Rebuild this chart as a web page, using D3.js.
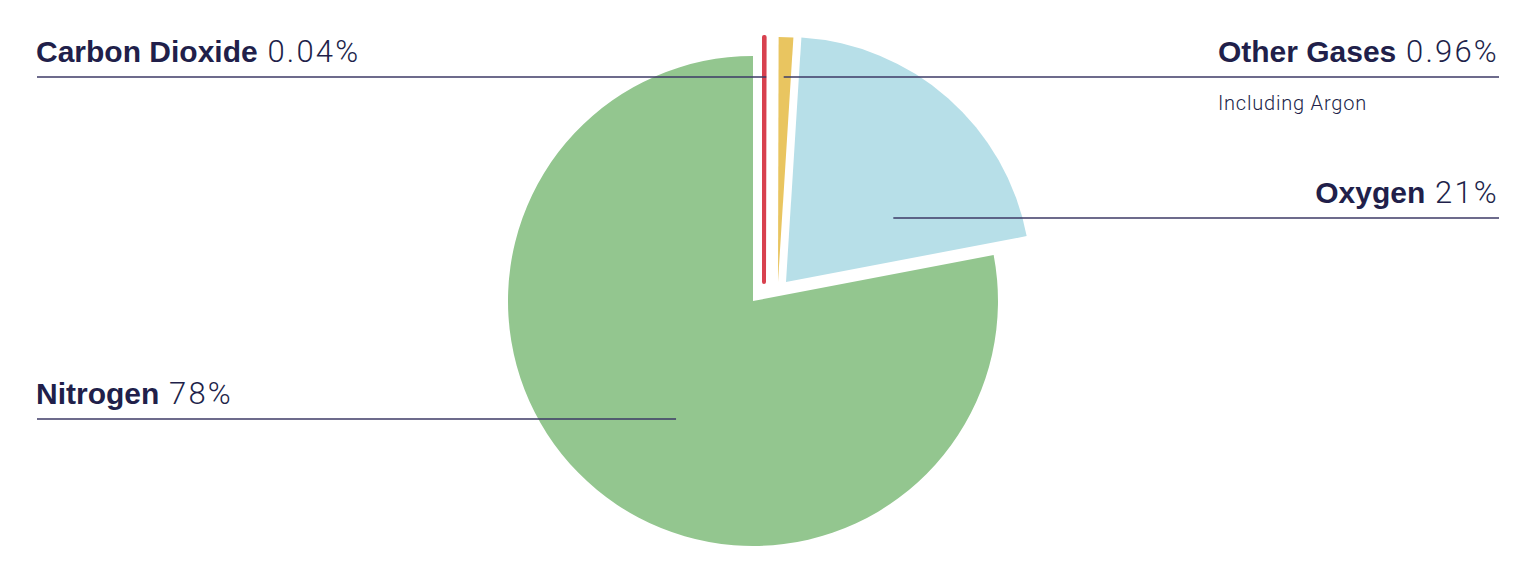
<!DOCTYPE html>
<html>
<head>
<meta charset="utf-8">
<script src="https://cdn.jsdelivr.net/npm/d3@7"></script>
<style>
  html, body { margin: 0; padding: 0; background: #fff; }
</style>
</head>
<body>
<div id="chart-container"></div>
<script>
// Data: composition of the air, clockwise from 12 o'clock
const gases = ["Carbon Dioxide", "Other Gases", "Oxygen", "Nitrogen"];
const shares = [0.04, 0.96, 21, 78];
const shareLabels = ["0.04%", "0.96%", "21%", "78%"];
const notes = ["", "Including Argon", "", ""];

// Styles
const colors = ["#d8414f", "#e9c560", "#b7dfe8", "#93c68f"];
const ink = "#211f4a";

// Set dimensions
const width = 1536;
const height = 584;
const cx = 753, cy = 301, radius = 245;
const leftX = 36, rightX = 1499;

// how far each slice is pulled out of the pie
const offsets = [[11, -19], [25, -19], [33, -19], [0, 0]];

// label placement: side, y of the leader line, radius fraction where the leader stops
const labelLayout = [
  { side: "left", y: 77, reach: null },
  { side: "right", y: 77, reach: null },
  { side: "right", y: 218, reach: 0.51 },
  { side: "left", y: 419, reach: 0.575 }
];

const svg = d3.select("#chart-container")
  .append("svg")
  .attr("width", width)
  .attr("height", height);

const pie = d3.pie().sort(null).value(d => d);
const arc = d3.arc().innerRadius(0).outerRadius(radius);
const arcs = pie(shares);

// Slices
const slices = svg.append("g");
slices.selectAll("path")
  .data(arcs)
  .join("path")
  .attr("transform", (d, i) => `translate(${cx + offsets[i][0]},${cy + offsets[i][1]})`)
  .attr("d", arc)
  .attr("fill", (d, i) => colors[i])
  // the CO2 slice is far too thin to see, give it some body
  .attr("stroke", (d, i) => d.endAngle - d.startAngle < 0.01 ? colors[i] : "none")
  .attr("stroke-width", 4)
  .attr("stroke-linejoin", "round");

// Leader lines
function leaderEnd(d, i) {
  const L = labelLayout[i];
  const sx = cx + offsets[i][0];
  const sy = cy + offsets[i][1];
  const dy = L.y - sy;
  if (L.reach === null) {
    // thin slice: follow the middle of the wedge up to the line
    const mid = (d.startAngle + d.endAngle) / 2;
    return sx + (-dy) * Math.tan(mid) + (L.side === "left" ? 2 : -1);
  }
  const r = radius * L.reach;
  const dx = Math.sqrt(Math.max(r * r - dy * dy, 0));
  return L.side === "left" ? sx - dx : sx + dx;
}

svg.append("g")
  .selectAll("line")
  .data(arcs)
  .join("line")
  .attr("x1", (d, i) => labelLayout[i].side === "left" ? leftX + 1 : rightX)
  .attr("x2", (d, i) => leaderEnd(d, i))
  .attr("y1", (d, i) => labelLayout[i].y)
  .attr("y2", (d, i) => labelLayout[i].y)
  .attr("stroke", "#3c3a66")
  .attr("stroke-width", 1.3);

// Labels
const labels = svg.append("g")
  .selectAll("text")
  .data(gases)
  .join("text")
  .attr("x", (d, i) => labelLayout[i].side === "left" ? leftX : rightX)
  .attr("y", (d, i) => labelLayout[i].y - 15)
  .attr("text-anchor", (d, i) => labelLayout[i].side === "left" ? "start" : "end")
  .style("font-size", "30px")
  .style("fill", ink);

labels.append("tspan")
  .style("font-family", "'Liberation Sans', Arial, sans-serif")
  .style("font-weight", "700")
  .text(d => d);

labels.append("tspan")
  .style("font-family", "Roboto, 'Open Sans', sans-serif")
  .style("font-weight", "300")
  .style("font-size", "31px")
  .style("letter-spacing", "2.2px")
  .text((d, i) => " " + shareLabels[i]);

// Sub notes under a label, aligned with its first letter
labels.each(function (d, i) {
  if (!notes[i]) return;
  const box = this.getBBox();
  svg.append("text")
    .attr("x", box.x)
    .attr("y", labelLayout[i].y + 33)
    .style("font-family", "Roboto, 'Open Sans', sans-serif")
    .style("font-weight", "300")
    .style("font-size", "20px")
    .style("letter-spacing", "0.8px")
    .style("fill", ink)
    .text(notes[i]);
});
</script>
</body>
</html>
